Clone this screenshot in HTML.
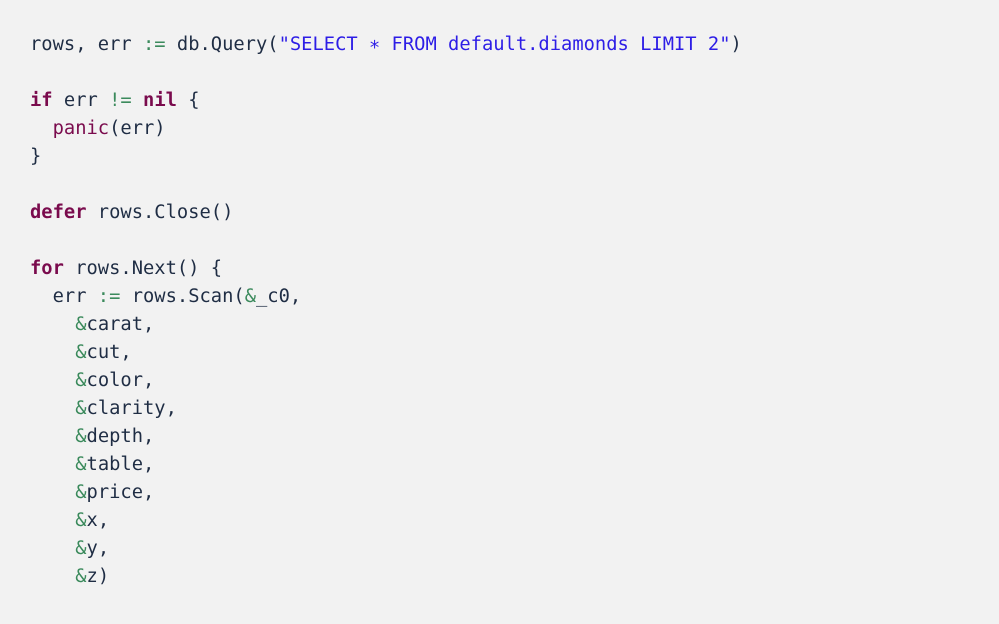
<!DOCTYPE html>
<html><head><meta charset="utf-8"><style>
html,body{margin:0;padding:0;background:#f2f2f2;width:999px;height:624px;overflow:hidden}
pre{position:absolute;left:30px;top:31px;margin:0;font-family:"DejaVu Sans Mono","Liberation Mono",monospace;font-size:18.77px;line-height:28px;color:#1f2d44}
.o{color:#3b8a5c}.s{color:#2d1de6}.k{color:#7a0b4d;font-weight:bold}.f{color:#7a0b4d}
</style></head><body>
<pre>rows, err <span class="o">:=</span> db.Query(<span class="s">"SELECT ∗ FROM default.diamonds LIMIT 2"</span>)

<span class="k">if</span> err <span class="o">!=</span> <span class="k">nil</span> {
  <span class="f">panic</span>(err)
}

<span class="k">defer</span> rows.Close()

<span class="k">for</span> rows.Next() {
  err <span class="o">:=</span> rows.Scan(<span class="o">&amp;</span>_c0,
    <span class="o">&amp;</span>carat,
    <span class="o">&amp;</span>cut,
    <span class="o">&amp;</span>color,
    <span class="o">&amp;</span>clarity,
    <span class="o">&amp;</span>depth,
    <span class="o">&amp;</span>table,
    <span class="o">&amp;</span>price,
    <span class="o">&amp;</span>x,
    <span class="o">&amp;</span>y,
    <span class="o">&amp;</span>z)</pre>
</body></html>
